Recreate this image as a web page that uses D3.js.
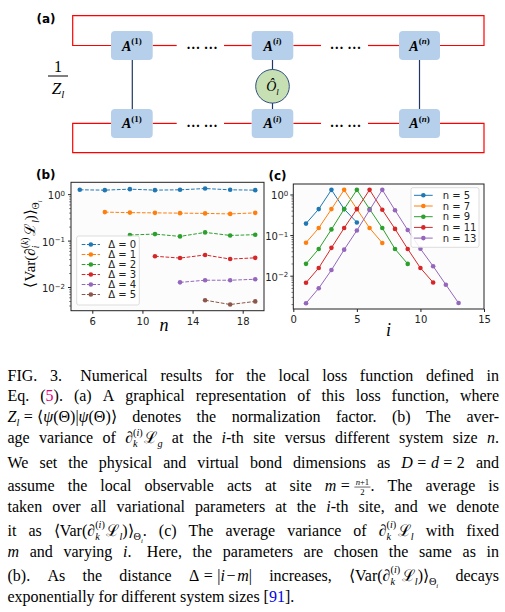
<!DOCTYPE html>
<html><head><meta charset="utf-8">
<script src="https://cdn.jsdelivr.net/npm/d3@7"></script>
<style>body{margin:0;background:#fff}svg{display:block}</style>
</head><body>
<svg id="c" width="505" height="612"></svg>
<script>
// ---------------- data ----------------
const sizesB = [5, 7, 9, 11, 13, 15, 17, 19];
const deltaLabels = ["Δ = 0", "Δ = 1", "Δ = 2", "Δ = 3", "Δ = 4", "Δ = 5"];
const varDelta0 = [1.24, 1.22, 1.28, 1.22, 1.24, 1.32, 1.24, 1.22];
const varDelta1 = [0.41, 0.40, 0.395, 0.39, 0.385, 0.375, 0.395];
const varDelta2 = [0.132, 0.138, 0.123, 0.150, 0.129, 0.134];
const varDelta3 = [0.046, 0.042, 0.049, 0.040, 0.0425];
const varDelta4 = [0.0126, 0.0140, 0.0140, 0.0147];
const varDelta5 = [0.0052, 0.0042, 0.0049];

const sizesC = [5, 7, 9, 11, 13];
const sizeLabels = ["n = 5", "n = 7", "n = 9", "n = 11", "n = 13"];
const varN5 = [0.192, 0.437, 1.30, 0.437, 0.205];
const varN7 = [0.065, 0.149, 0.437, 1.30, 0.437, 0.149, 0.064];
const varN9 = [0.0196, 0.0455, 0.138, 0.437, 1.30, 0.437, 0.149, 0.0455, 0.0195];
const varN11 = [0.0067, 0.0155, 0.0485, 0.149, 0.437, 1.30, 0.42, 0.142, 0.0455, 0.0155, 0.0068];
const varN13 = [0.0021, 0.0049, 0.0138, 0.0438, 0.13, 0.415, 1.30, 0.41, 0.133, 0.046, 0.0171, 0.0060, 0.00212];

const xTicksB = [6, 10, 14, 18];
const xTicksC = [0, 5, 10, 15];
const yTicksMajor = [1e-2, 1e-1, 1];
const colors = d3.schemeCategory10;

// ---------------- helpers ----------------
const svg = d3.select("#c");
const SERIF = "'Liberation Serif','Times New Roman',serif";
const SANS = "'DejaVu Sans',sans-serif";

const T = (t, o = {}) => Object.assign({ t }, o);
const I = (t, o = {}) => T(t, Object.assign({ it: true }, o));
const SUP = (...p) => ({ group: p, scale: 0.64, dy: -0.44 });
const SUB = (...p) => ({ group: p, scale: 0.64, dy: 0.28 });
const STK = (a, b) => ({ stack: [a, b] });
const FR = (num, den) => ({ frac: [num, den] });
const SP = (em) => ({ sp: em });

function lay(g, pieces, x, y, fs, fam) {
  for (const p of pieces) {
    if (typeof p === "string") { x = lay(g, [T(p)], x, y, fs, fam); continue; }
    if (p.sp !== undefined) { x += p.sp * fs; continue; }
    if (p.group) { x = lay(g, p.group, x, y + p.dy * fs, fs * p.scale, fam); continue; }
    if (p.stack) {
      const a = lay(g, [p.stack[0]], x, y, fs, fam);
      const b = lay(g, [p.stack[1]], x, y, fs, fam);
      x = Math.max(a, b); continue;
    }
    if (p.frac) {
      const f2 = fs * 0.54;
      const gn = g.append("g"); const wn = lay(gn, p.frac[0], 0, y - 0.35 * fs, f2, fam);
      const gd = g.append("g"); const wd = lay(gd, p.frac[1], 0, y + 0.28 * fs, f2, fam);
      const w = Math.max(wn, wd) + 0.16 * fs;
      gn.attr("transform", `translate(${x + (w - wn) / 2},0)`);
      gd.attr("transform", `translate(${x + (w - wd) / 2},0)`);
      g.append("line").attr("x1", x).attr("x2", x + w).attr("y1", y - 0.215 * fs).attr("y2", y - 0.215 * fs)
        .attr("stroke", "#000").attr("stroke-width", 0.6);
      x += w; continue;
    }
    const t = g.append("text").attr("x", x).attr("y", y).attr("font-size", fs)
      .attr("font-family", p.fam || fam).text(p.t);
    if (p.it) t.attr("font-style", "italic");
    if (p.b) t.attr("font-weight", "bold");
    t.attr("fill", p.fill || "#000");
    x += t.node().getComputedTextLength();
  }
  return x;
}

function tokenize(tokens) {
  const words = [[]];
  for (const tk of tokens) {
    if (typeof tk === "string") {
      tk.split(" ").forEach((s, k) => {
        if (k > 0) words.push([]);
        if (s) words[words.length - 1].push(s);
      });
    } else words[words.length - 1].push(tk);
  }
  return words.filter(w => w.length);
}

function justifyLine(tokens, x0, x1, y, fs, fam, last) {
  const g = svg.append("g");
  const words = tokenize(tokens).map(w => {
    const wg = g.append("g");
    const width = lay(wg, w, 0, y, fs, fam);
    return { wg, width };
  });
  const total = d3.sum(words, d => d.width);
  const gap = last ? fs * 0.25 : (x1 - x0 - total) / (words.length - 1);
  let x = x0;
  words.forEach(w => { w.wg.attr("transform", `translate(${x},0)`); x += w.width + gap; });
}

// ---------------- panel (a) ----------------
const RED = "#ff0000", NAVY = "#1f3864", BOXF = "#b6cfea";
svg.append("text").attr("x", 36.5).attr("y", 22.5).attr("font-family", SANS).attr("font-weight", "bold")
  .attr("font-size", 12).text("(a)");

const boxesX = [[111, 152.7], [251.7, 293.3], [399, 440]];
const rowsY = [45.5, 123.4];
const loopOuter = [15.7, 152.7];
const boxLabels = [
  [T("A", { it: true, b: true }), SUP(T("(1)", { b: true }))],
  [T("A", { it: true, b: true }), SUP(T("(", { b: true }), I("i", { b: true }), T(")", { b: true }))],
  [T("A", { it: true, b: true }), SUP(T("(", { b: true }), I("n", { b: true }), T(")", { b: true }))]
];
rowsY.forEach((ry, r) => {
  const oy = loopOuter[r];
  svg.append("path").attr("d", `M${boxesX[0][0]},${ry}H72.7V${oy}H484V${ry}H${boxesX[2][1]}`)
    .attr("fill", "none").attr("stroke", RED).attr("stroke-width", 1.2);
  [[152.7, 176.7], [224, 251.7], [293.3, 321], [368, 399]].forEach(s =>
    svg.append("line").attr("x1", s[0]).attr("x2", s[1]).attr("y1", ry).attr("y2", ry)
      .attr("stroke", RED).attr("stroke-width", 1.2));
  [202, 345.5].forEach(cx => svg.append("text").attr("x", cx).attr("y", ry + 3.5).attr("text-anchor", "middle")
    .attr("font-family", SERIF).attr("font-weight", "bold").attr("font-size", 14).text("… …"));
});
[132.3, 419.5].forEach(x => svg.append("line").attr("x1", x).attr("x2", x).attr("y1", 59).attr("y2", 110)
  .attr("stroke", NAVY).attr("stroke-width", 1.2));
svg.append("line").attr("x1", 272.5).attr("x2", 272.5).attr("y1", 59).attr("y2", 110)
  .attr("stroke", NAVY).attr("stroke-width", 1.2);
rowsY.forEach(ry => boxesX.forEach((b, k) => {
  svg.append("rect").attr("x", b[0]).attr("y", ry - 14.5).attr("width", b[1] - b[0]).attr("height", 29)
    .attr("rx", 4).attr("fill", BOXF);
  const g = svg.append("g");
  const w = lay(g, boxLabels[k], 0, 0, 14, SERIF);
  g.attr("transform", `translate(${(b[0] + b[1]) / 2 - w / 2},${ry + 5})`);
}));
svg.append("circle").attr("cx", 272.5).attr("cy", 86.3).attr("r", 16.8).attr("fill", "#c6e0b4")
  .attr("stroke", "#2f4f80").attr("stroke-width", 1);
{
  const g = svg.append("g");
  const w = lay(g, [I("Ô"), SUB(I("l"))], 0, 0, 14, SERIF);
  g.attr("transform", `translate(${272.5 - w / 2},${91})`);
}
svg.append("text").attr("x", 58).attr("y", 71.5).attr("text-anchor", "middle").attr("font-family", SERIF)
  .attr("font-size", 16).text("1");
svg.append("line").attr("x1", 48).attr("x2", 68).attr("y1", 76).attr("y2", 76).attr("stroke", "#000").attr("stroke-width", 1);
{
  const g = svg.append("g");
  const w = lay(g, [I("Z"), SUB(I("l"))], 0, 0, 17, SERIF);
  g.attr("transform", `translate(${58 - w / 2},93.5)`);
}

// ---------------- axes helper ----------------
function frameAxes(x, y, xticks, ypad) {
  const [x0, x1] = x.range(), [y0, y1] = y.range();
  svg.append("rect").attr("x", x0).attr("y", y1).attr("width", x1 - x0).attr("height", y0 - y1).attr("fill", "#fcfcfc");
  const ax = svg.append("g").attr("transform", `translate(0,${y0})`)
    .call(d3.axisBottom(x).tickValues(xticks).tickSize(3).tickPadding(3.8).tickFormat(d3.format("d")));
  ax.select(".domain").remove();
  ax.selectAll("line").attr("stroke", "#222");
  ax.selectAll("text").attr("font-size", 10).attr("font-family", SANS).attr("fill", "#222");
  const [lo, hi] = y.domain();
  const minors = y.ticks().filter(d => Math.abs(Math.log10(d) - Math.round(Math.log10(d))) > 1e-6 && d >= lo && d <= hi);
  const am = svg.append("g").attr("transform", `translate(${x0},0)`)
    .call(d3.axisLeft(y).tickValues(minors).tickSize(1.8).tickFormat(""));
  am.select(".domain").remove();
  am.selectAll("line").attr("stroke", "#222").attr("stroke-width", 0.6);
  const ay = svg.append("g").attr("transform", `translate(${x0},0)`)
    .call(d3.axisLeft(y).tickValues(yTicksMajor).tickSize(3).tickPadding(ypad).tickFormat(""));
  ay.select(".domain").remove();
  ay.selectAll("line").attr("stroke", "#222");
  ay.selectAll(".tick text").each(function (d) {
    const e = Math.round(Math.log10(d));
    const t = d3.select(this).attr("font-size", 10).attr("font-family", SANS).attr("fill", "#222").attr("dy", "0.45em");
    t.append("tspan").text("10");
    t.append("tspan").attr("dy", "-0.48em").attr("font-size", "7").text(e === 0 ? "0" : "−" + (-e));
  });
}
function frameBorder(x, y) {
  const [x0, x1] = x.range(), [y0, y1] = y.range();
  svg.append("rect").attr("x", x0).attr("y", y1).attr("width", x1 - x0).attr("height", y0 - y1)
    .attr("fill", "none").attr("stroke", "#222").attr("stroke-width", 1);
}
function drawSeries(x, y, xs, ys, color, dashed) {
  const pts = xs.map((v, k) => [v, ys[k]]);
  svg.append("path").attr("d", d3.line().x(d => x(d[0])).y(d => y(d[1]))(pts))
    .attr("fill", "none").attr("stroke", color).attr("stroke-width", 1)
    .attr("stroke-dasharray", dashed ? "3.7,1.6" : null);
  svg.append("g").selectAll("circle").data(pts).join("circle")
    .attr("cx", d => x(d[0])).attr("cy", d => y(d[1])).attr("r", 2.3).attr("fill", color);
}
function drawLegend(box, labels, rowY0, rowDy, lx0, lx1, tx, dashed) {
  svg.append("rect").attr("x", box[0]).attr("y", box[1]).attr("width", box[2]).attr("height", box[3])
    .attr("rx", 2).attr("fill", "#fff").attr("fill-opacity", 0.85).attr("stroke", "#d4d4d4").attr("stroke-width", 0.8);
  labels.forEach((lab, k) => {
    const yy = rowY0 + k * rowDy;
    svg.append("line").attr("x1", lx0).attr("x2", lx1).attr("y1", yy).attr("y2", yy)
      .attr("stroke", colors[k]).attr("stroke-width", 1).attr("stroke-dasharray", dashed ? "3.7,1.6" : null);
    svg.append("circle").attr("cx", (lx0 + lx1) / 2).attr("cy", yy).attr("r", 2.3).attr("fill", colors[k]);
    svg.append("text").attr("x", tx).attr("y", yy + 3.6).attr("font-size", 10).attr("font-family", SANS)
      .attr("fill", "#222").text(lab);
  });
}

// ---------------- panel (b) ----------------
const xB = d3.scaleLinear().domain([4.3, 19.7]).range([71, 264]);
const yB = d3.scaleLog().domain([Math.pow(10, -2.51), Math.pow(10, 0.255)]).range([310.7, 182.3]);
frameAxes(xB, yB, xTicksB, 3);
[varDelta0, varDelta1, varDelta2, varDelta3, varDelta4, varDelta5].forEach((vals, k) =>
  drawSeries(xB, yB, sizesB.slice(k), vals, colors[k], true));
frameBorder(xB, yB);
drawLegend([76.7, 236, 62.6, 69], deltaLabels, 244.5, 10, 81.7, 100, 108.3, true);
svg.append("text").attr("x", 36).attr("y", 179).attr("font-family", SANS).attr("font-weight", "bold")
  .attr("font-size", 12).text("(b)");
svg.append("text").attr("x", 164).attr("y", 331).attr("text-anchor", "middle").attr("font-family", SERIF)
  .attr("font-style", "italic").attr("font-size", 18).text("n");
{
  const g = svg.append("g");
  const inner = g.append("g");
  const w = lay(inner, ["⟨Var(∂", STK(SUP("(", I("k"), ")"), SUB(I("i"))), SP(0.12), "ℒ", SUB(I("l")), ")⟩",
    SUB("Θ", SUB(I("i")))], 0, 0, 15, SERIF);
  inner.attr("transform", `translate(${-w / 2},0)`);
  g.attr("transform", "translate(35,244) rotate(-90)");
}

// ---------------- panel (c) ----------------
const xC = d3.scaleLinear().domain([0, 15]).range([293.3, 484]);
const yC = d3.scaleLog().domain([Math.pow(10, -2.82), Math.pow(10, 0.258)]).range([309, 184]);
frameAxes(xC, yC, xTicksC, 2);
[varN5, varN7, varN9, varN11, varN13].forEach((vals, k) =>
  drawSeries(xC, yC, vals.map((v, j) => j + 1), vals, colors[k], false));
frameBorder(xC, yC);
drawLegend([411, 187.7, 68, 59.6], sizeLabels, 195.3, 10.7, 414, 432.7, 442.7, false);
svg.append("text").attr("x", 268.5).attr("y", 180).attr("font-family", SANS).attr("font-weight", "bold")
  .attr("font-size", 12).text("(c)");
svg.append("text").attr("x", 388.5).attr("y", 335.5).attr("text-anchor", "middle").attr("font-family", SERIF)
  .attr("font-style", "italic").attr("font-size", 18).text("i");

// ---------------- caption ----------------
const EQ = () => [SP(0.28), "=", SP(0.28)];
const dK = () => STK(SUP("(", I("i"), ")"), SUB(I("k")));
const avgVar = () => ["⟨Var(∂", dK(), SP(0.1), "ℒ", SUB(I("l")), ")⟩", SUB("Θ", SUB(I("i")))];
const captionLines = [
  ["FIG. 3.", SP(0.35), " Numerical results for the local loss function defined in"],
  ["Eq. (", T("5", { fill: "#e4007c" }), "). (a) A graphical representation of this loss function, where"],
  [I("Z"), SUB(I("l")), ...EQ(), "⟨", I("ψ"), "(Θ)|", I("ψ"), "(Θ)⟩ denotes the normalization factor. (b) The aver-"],
  ["age variance of ∂", dK(), SP(0.1), "ℒ", SUB(I("g")), " at the ", I("i"), "-th site versus different system size ", I("n"), "."],
  ["We set the physical and virtual bond dimensions as ", I("D"), ...EQ(), I("d"), ...EQ(), "2 and"],
  ["assume the local observable acts at site ", I("m"), ...EQ(), FR([I("n"), "+1"], ["2"]), ". The average is"],
  ["taken over all variational parameters at the ", I("i"), "-th site, and we denote"],
  ["it as ", ...avgVar(), ". (c) The average variance of ∂", dK(), SP(0.1), "ℒ", SUB(I("l")), " with fixed"],
  [I("m"), " and varying ", I("i"), ".", SP(0.3), " Here, the parameters are chosen the same as in"],
  ["(b). As the distance Δ", ...EQ(), "|", I("i"), SP(0.1), "−", SP(0.1), I("m"), "| increases, ", ...avgVar(), " decays"],
  ["exponentially for different system sizes [", T("91", { fill: "#0000ee" }), "]."]
];
const captionY = [380.5, 401, 421.5, 443, 467.5, 490.5, 511.5, 535.5, 557, 580.5, 602];
captionLines.forEach((ln, k) => justifyLine(ln, 7.5, 499, captionY[k], 16, SERIF, k === captionLines.length - 1));
</script>
</body></html>
